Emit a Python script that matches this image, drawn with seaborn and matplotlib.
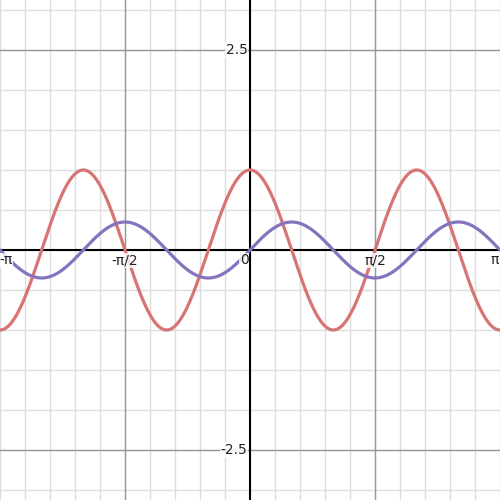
import numpy as np
import pandas as pd
import seaborn as sns
import matplotlib.pyplot as plt
from matplotlib.ticker import MultipleLocator

sns.set_theme(style="white")
plt.rcParams['font.family'] = ['DejaVu Sans']

names = ["cos", "sin"]
amplitudes = [1.0, 0.35]
frequencies = [3, 3]
colors = ["#d77474", "#8573be"]
x_tick_labels = ["-π", "-π/2", "0", "π/2", "π"]
y_tick_labels = ["2.5", "-2.5"]

x = np.linspace(-np.pi, np.pi, 1200)
frames = []
frames.append(pd.DataFrame({"x": x, "y": amplitudes[0]*np.cos(frequencies[0]*x), "f": names[0]}))
frames.append(pd.DataFrame({"x": x, "y": amplitudes[1]*np.sin(frequencies[1]*x), "f": names[1]}))
df = pd.concat(frames)

fig = plt.figure(figsize=(5, 5), dpi=100)
ax = fig.add_axes([0, 0, 1, 1])
ax.set_xlim(-np.pi, np.pi)
ax.set_ylim(-3.125, 3.125)
for xv in np.arange(-10, 11) * np.pi / 10:
    ax.axvline(xv, color="#dddddd", lw=1, zorder=0)
for yv in np.arange(-6, 7) * 0.5:
    ax.axhline(yv, color="#dddddd", lw=1, zorder=0)
for xv in [-np.pi/2, np.pi/2]:
    ax.axvline(xv, color="#999999", lw=1, zorder=0)
for yv in [-2.5, 2.5]:
    ax.axhline(yv, color="#999999", lw=1, zorder=0)
ax.axhline(0, color="black", lw=1.5, zorder=1)
ax.axvline(0, color="black", lw=1.5, zorder=1)

sns.lineplot(data=df, x="x", y="y", hue="f", palette=dict(zip(names, colors)),
             lw=2.3, legend=False, ax=ax, zorder=3, sort=False, estimator=None)
ax.set_axis_off()

xpos = [-np.pi + 0.07, -np.pi/2, -0.07, np.pi/2, np.pi - 0.07]
for p, t in zip(xpos, x_tick_labels):
    ax.text(p, -0.04, t, ha="center", va="top", fontsize=10, color="#222222", zorder=4,
            bbox=dict(fc="white", ec="none", pad=0.5, alpha=0.8))
for v, t in zip([2.5, -2.5], y_tick_labels):
    ax.text(-0.03, v, t, ha="right", va="center", fontsize=10, color="#222222", zorder=4,
            bbox=dict(fc="white", ec="none", pad=0.5, alpha=0.8))
fig.savefig("out.png", dpi=100)
